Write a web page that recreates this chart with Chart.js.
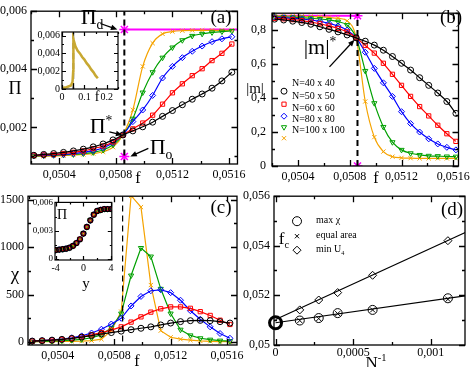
<!DOCTYPE html>
<html>
<head>
<meta charset="utf-8">
<script src="https://cdn.jsdelivr.net/npm/chart.js@4.4.1/dist/chart.umd.min.js"></script>
<style>
  body { margin: 0; background: #fff; }
  #fig { position: relative; width: 474px; height: 367px; overflow: hidden;
         font-family: "Liberation Serif", "Times New Roman", serif; color: #000; }
  canvas { position: absolute; }
  .t { position: absolute; transform: translate(-50%, -50%); white-space: nowrap; line-height: 1; }
  .lg { position: absolute; transform: translateY(-50%); white-space: nowrap; line-height: 1; font-size: 10px; }
  sub, sup { font-size: 62%; line-height: 0; }
</style>
</head>
<body>
<div id="fig">
  <canvas id="chartA" width="250" height="185" style="left:0;top:0"></canvas>
  <canvas id="chartB" width="234" height="185" style="left:240px;top:0"></canvas>
  <canvas id="chartC" width="250" height="182" style="left:0;top:185px"></canvas>
  <canvas id="chartD" width="234" height="182" style="left:240px;top:185px"></canvas>
  <canvas id="insetA" width="92" height="76" style="left:28px;top:24px"></canvas>
  <canvas id="insetC" width="97" height="78" style="left:20px;top:195px"></canvas>

  <!-- panel (a) labels -->
  <div class="t" style="left:221px;top:16px;font-size:19px">(a)</div>
  <div class="t" style="left:15px;top:88px;font-size:18px">Π</div>
  <div class="t" style="left:138px;top:178px;font-size:16px">f</div>
  <div class="t" style="left:92px;top:17px;font-size:22px">Π<sub>d</sub></div>
  <div class="t" style="left:101px;top:126px;font-size:22px">Π<sup>*</sup></div>
  <div class="t" style="left:161px;top:147px;font-size:22px">Π<sub>o</sub></div>
  <div class="t" style="left:97px;top:97px;font-size:14px">f</div>

  <!-- panel (b) labels -->
  <div class="t" style="left:451px;top:16px;font-size:19px">(b)</div>
  <div class="t" style="left:255px;top:88px;font-size:15px">|m|</div>
  <div class="t" style="left:376px;top:178px;font-size:16px">f</div>
  <div class="t" style="left:320px;top:47px;font-size:22px">|m|<sup>*</sup></div>
  <div class="lg" style="left:292px;top:83px">N=40 x 40</div>
  <div class="lg" style="left:292px;top:96px">N=50 x 50</div>
  <div class="lg" style="left:292px;top:108px">N=60 x 60</div>
  <div class="lg" style="left:292px;top:119px">N=80 x 80</div>
  <div class="lg" style="left:292px;top:130px">N=100 x 100</div>

  <!-- panel (c) labels -->
  <div class="t" style="left:221px;top:206px;font-size:19px">(c)</div>
  <div class="t" style="left:15px;top:273px;font-size:19px">χ</div>
  <div class="t" style="left:137px;top:361px;font-size:16px">f</div>
  <div class="t" style="left:62px;top:215px;font-size:14px">Π</div>
  <div class="t" style="left:86px;top:283px;font-size:15px">y</div>

  <!-- panel (d) labels -->
  <div class="t" style="left:452px;top:208px;font-size:19px">(d)</div>
  <div class="t" style="left:284px;top:238px;font-size:17px">f<sub>c</sub></div>
  <div class="t" style="left:376px;top:362px;font-size:17px">N<sup>-1</sup></div>
  <div class="lg" style="left:316px;top:220px">max χ</div>
  <div class="lg" style="left:316px;top:235px">equal area</div>
  <div class="lg" style="left:316px;top:249px">min U<sub>4</sub></div>
</div>

<script>
/* ---------------- data ---------------- */

const fGrid = [0.05022, 0.05029, 0.05036, 0.05043, 0.05050, 0.05057, 0.05064,
               0.05071, 0.05078, 0.05085, 0.05092, 0.05099, 0.05106, 0.05113,
               0.05120, 0.05127, 0.05134, 0.05141, 0.05148, 0.05155, 0.05162];

const sizeNames = ["N=40 x 40", "N=50 x 50", "N=60 x 60", "N=80 x 80", "N=100 x 100"];

// panel (a): Pi vs f
const pi40  = [0.00104, 0.00107, 0.00110, 0.00114, 0.00119, 0.00125, 0.00133, 0.00143, 0.00157, 0.00174, 0.00188,
               0.00202, 0.00218, 0.00238, 0.00258, 0.00278, 0.00297, 0.00315, 0.00335, 0.00360, 0.00390];
const pi50  = [0.00104, 0.00105, 0.00107, 0.00110, 0.00114, 0.00119, 0.00127, 0.00136, 0.00150, 0.00173, 0.00195,
               0.00215, 0.00242, 0.00280, 0.00319, 0.00350, 0.00378, 0.00402, 0.00430, 0.00455, 0.00487];
const pi60  = [0.00103, 0.00104, 0.00105, 0.00107, 0.00110, 0.00114, 0.00120, 0.00130, 0.00147, 0.00174, 0.00220,
               0.00260, 0.00310, 0.00370, 0.00410, 0.00440, 0.00462, 0.00480, 0.00495, 0.00505, 0.00512];
const pi80  = [0.00102, 0.00103, 0.00104, 0.00105, 0.00107, 0.00110, 0.00114, 0.00122, 0.00140, 0.00174, 0.00230,
               0.00320, 0.00390, 0.00440, 0.00475, 0.00500, 0.00515, 0.00522, 0.00527, 0.00530, 0.00532];
const pi100 = [0.00100, 0.00101, 0.00102, 0.00103, 0.00105, 0.00107, 0.00110, 0.00116, 0.00132, 0.00174, 0.00260,
               0.00410, 0.00490, 0.00522, 0.00530, 0.00533, 0.00534, 0.00534, 0.00534, 0.00534, 0.00534];

// panel (b): |m| vs f
const m40  = [0.865, 0.860, 0.853, 0.845, 0.835, 0.820, 0.805, 0.790, 0.772, 0.755, 0.735,
              0.712, 0.682, 0.645, 0.605, 0.565, 0.520, 0.475, 0.430, 0.380, 0.310];
const m50  = [0.870, 0.867, 0.862, 0.856, 0.848, 0.838, 0.825, 0.810, 0.790, 0.755, 0.710,
              0.665, 0.605, 0.540, 0.475, 0.410, 0.350, 0.295, 0.240, 0.190, 0.145];
const m60  = [0.875, 0.873, 0.870, 0.866, 0.860, 0.852, 0.840, 0.825, 0.800, 0.755, 0.670,
              0.575, 0.490, 0.410, 0.320, 0.250, 0.200, 0.160, 0.130, 0.110, 0.095];
const m80  = [0.880, 0.878, 0.876, 0.874, 0.870, 0.866, 0.860, 0.850, 0.830, 0.755, 0.560,
              0.370, 0.230, 0.140, 0.095, 0.075, 0.065, 0.060, 0.058, 0.056, 0.055];
const m100 = [0.885, 0.884, 0.883, 0.882, 0.880, 0.878, 0.875, 0.870, 0.855, 0.755, 0.380,
              0.170, 0.085, 0.055, 0.048, 0.046, 0.045, 0.045, 0.045, 0.045, 0.045];

// panel (c): chi vs f
const chi40  = [10, 15, 20, 28, 38, 52, 68, 85, 100, 115, 130, 145, 160, 180, 200, 215, 225, 228, 225, 215, 200];
const chi50  = [10, 14, 20, 28, 40, 55, 75, 100, 125, 160, 210, 265, 315, 350, 370, 370, 355, 320, 280, 230, 185];
const chi60  = [12, 16, 22, 30, 45, 65, 95, 135, 190, 250, 380, 480, 540, 550, 520, 440, 330, 240, 160, 90, 40];
const chi80  = [5, 7, 10, 14, 20, 28, 45, 75, 150, 300, 700, 990, 900, 560, 300, 130, 70, 40, 25, 15, 10];
const chi100 = [3, 4, 5, 6, 8, 10, 15, 30, 120, 320, 1540, 1420, 600, 120, 50, 30, 20, 12, 8, 5, 4];

// transition markers
const fStar = 0.05086;
const piStar = 0.00174, piD = 0.00537, piO = 0.00100;
const mStar = 0.755, mD = 0.885, mO = 0.0;

// inset (a): Pi over a wide f range
const insetAF  = [0, 0.02, 0.04, 0.047, 0.050, 0.0509, 0.06, 0.07, 0.08, 0.09, 0.10, 0.11, 0.12, 0.13, 0.14, 0.15, 0.16];
const insetAPi = [0.0001, 0.0002, 0.0004, 0.0008, 0.0020, 0.0056, 0.0048, 0.0043, 0.0040, 0.0036, 0.0033,
                  0.0029, 0.0026, 0.0022, 0.0019, 0.0015, 0.0012];

// inset (c): scaling collapse
const collapseY  = [-4, -3.5, -3, -2.5, -2, -1.5, -1, -0.5, 0, 0.5, 1, 1.5, 2, 2.5, 3, 3.5, 4];
const collapsePi = [0.00095, 0.0010, 0.00105, 0.0011, 0.0012, 0.0014, 0.0017, 0.0021, 0.0027, 0.0034,
                    0.0041, 0.0047, 0.0051, 0.0052, 0.0053, 0.0053, 0.0053];

// panel (d): f_c vs 1/N
const invN        = [0.000156, 0.000278, 0.0004, 0.000625, 0.00111];
const fcMaxChi    = [0.05097, 0.05107, 0.05127, 0.05140, 0.05187];
const fcEqualArea = [0.05097, 0.05105, 0.05125, 0.05140, 0.05183];
const fcMinU4     = [0.05140, 0.05180, 0.05210, 0.05280, 0.05420];
const fitX        = [0, 0.00125];
const fitMaxChi   = [0.05088, 0.05199];
const fitMinU4    = [0.05101, 0.05461];
const fcInfinite  = 0.05088;

// tick values
const ticksF   = [0.0504, 0.0508, 0.0512, 0.0516];
const ticksPi  = [0.002, 0.004, 0.006];
const ticksM   = [0, 0.2, 0.4, 0.6, 0.8];
const ticksChi = [0, 500, 1000, 1500];
const ticksInvN = [0, 0.0005, 0.001];
const ticksFc  = [0.05, 0.052, 0.054, 0.056];
const ticksInsetAF = [0, 0.1, 0.2];
const ticksInsetAPi = [0, 0.002, 0.004, 0.006];
const ticksInsetCY = [-4, 0, 4];
const ticksInsetCPi = [0, 0.003, 0.006];

/* ---------------- helpers ---------------- */

const SERIF = '"Liberation Serif", "Times New Roman", serif';
const colors = ["#000000", "#ff0000", "#0000ff", "#00a000", "#f5a300"];
const styles = [
  { pointStyle: "circle", rotation: 0 },
  { pointStyle: "rect", rotation: 0 },
  { pointStyle: "rectRot", rotation: 0 },
  { pointStyle: "triangle", rotation: 180 },
  { pointStyle: "crossRot", rotation: 0 }
];
const MAGENTA = "#ff00ff";

const pts = (xs, ys) => xs.map((x, i) => ({ x, y: ys[i] }));
const comma = v => String(v).replace(".", ",");

function axis(min, max, ticks, fixed, size, pad) {
  return {
    type: "linear",
    min, max,
    afterBuildTicks: s => { s.ticks = ticks.map(v => ({ value: v })); },
    afterFit: s => { if (s.isHorizontal()) s.height = fixed; else s.width = fixed; },
    grid: { display: false, drawTicks: false },
    border: { display: false },
    ticks: {
      autoSkip: false, maxRotation: 0, padding: pad === undefined ? 4 : pad, color: "#000",
      font: { family: SERIF, size },
      callback: v => comma(v)
    }
  };
}

// frame with inward major and minor ticks on all four sides
const frameTicks = {
  id: "frameTicks",
  afterDatasetsDraw(chart, args, o) {
    const { ctx, chartArea: a, scales } = chart;
    ctx.save();
    ctx.strokeStyle = "#000";
    ctx.lineWidth = o.width || 1.3;
    ctx.strokeRect(a.left, a.top, a.right - a.left, a.bottom - a.top);
    const mj = o.major || 6, mn = o.minor || 3;
    const drawSet = (s, vals, len) => {
      vals.forEach(v => {
        if (v < s.min - 1e-12 || v > s.max + 1e-12) return;
        const p = Math.round(s.getPixelForValue(v)) + 0.5;
        ctx.beginPath();
        if (s.isHorizontal()) {
          ctx.moveTo(p, a.bottom); ctx.lineTo(p, a.bottom - len);
          ctx.moveTo(p, a.top); ctx.lineTo(p, a.top + len);
        } else {
          ctx.moveTo(a.left, p); ctx.lineTo(a.left + len, p);
          ctx.moveTo(a.right, p); ctx.lineTo(a.right - len, p);
        }
        ctx.stroke();
      });
    };
    [scales.x, scales.y].forEach(s => {
      const major = s.ticks.map(t => t.value);
      const step = major[1] - major[0];
      const minor = [];
      for (let v = major[0] - step / 2; v <= s.max; v += step) minor.push(v);
      drawSet(s, major, mj);
      drawSet(s, minor, mn);
    });
    ctx.restore();
  }
};

// arrows pointing at data values
const arrows = {
  id: "arrows",
  afterDraw(chart, args, o) {
    const { ctx } = chart;
    (o.list || []).forEach(ar => {
      const px = chart.scales.x.getPixelForValue(ar.x);
      const py = chart.scales.y.getPixelForValue(ar.y);
      const hx = px + ar.head[0], hy = py + ar.head[1];
      const tx = px + ar.tail[0], ty = py + ar.tail[1];
      const ang = Math.atan2(hy - ty, hx - tx);
      ctx.save();
      ctx.strokeStyle = "#000"; ctx.fillStyle = "#000"; ctx.lineWidth = 1.3;
      ctx.beginPath(); ctx.moveTo(tx, ty);
      ctx.lineTo(hx - 5 * Math.cos(ang), hy - 5 * Math.sin(ang)); ctx.stroke();
      ctx.beginPath();
      ctx.moveTo(hx, hy);
      ctx.lineTo(hx - 7 * Math.cos(ang - 0.4), hy - 7 * Math.sin(ang - 0.4));
      ctx.lineTo(hx - 7 * Math.cos(ang + 0.4), hy - 7 * Math.sin(ang + 0.4));
      ctx.closePath(); ctx.fill();
      ctx.restore();
    });
  }
};

// legend symbols (text is HTML)
const legendMarks = {
  id: "legendMarks",
  afterDraw(chart, args, o) {
    const { ctx, chartArea: a } = chart;
    (o.items || []).forEach(it => {
      ctx.save();
      ctx.strokeStyle = it.color; ctx.fillStyle = "rgba(0,0,0,0)"; ctx.lineWidth = 1;
      Chart.helpers.drawPoint(ctx, { pointStyle: it.style, rotation: it.rotation || 0, radius: it.r, borderWidth: 1 },
        a.left + it.dx, a.top + it.dy);
      ctx.restore();
    });
  }
};

// white plot background for insets
const whiteArea = {
  id: "whiteArea",
  beforeDraw(chart) {
    const { ctx, chartArea: a } = chart;
    ctx.save(); ctx.fillStyle = "#fff";
    ctx.fillRect(a.left, a.top, a.right - a.left, a.bottom - a.top);
    ctx.restore();
  }
};

Chart.register(frameTicks, arrows, legendMarks);

function sizeSets(series, smooth, r) {
  return series.map((ys, i) => ({
    label: sizeNames[i],
    data: pts(fGrid, ys),
    showLine: true,
    borderColor: colors[i],
    borderWidth: 1.2,
    cubicInterpolationMode: smooth ? "monotone" : "default",
    tension: 0,
    pointStyle: styles[i].pointStyle,
    rotation: styles[i].rotation,
    pointRadius: r,
    pointBorderWidth: 1,
    pointBorderColor: colors[i],
    pointBackgroundColor: "rgba(0,0,0,0)"
  }));
}

function dashed(x, y0, y1, w) {
  return { data: [{ x, y: y0 }, { x, y: y1 }], showLine: true, borderColor: "#000",
           borderWidth: w, borderDash: [6, 4], pointRadius: 0 };
}

function baseOptions(pad, scales, plugins) {
  return {
    responsive: false,
    animation: false,
    events: [],
    layout: { padding: pad },
    scales,
    plugins: Object.assign({ legend: { display: false }, tooltip: { enabled: false } }, plugins)
  };
}

/* ---------------- panel (a) ---------------- */

new Chart(document.getElementById("chartA"), {
  type: "scatter",
  data: {
    datasets: [
      dashed(fStar, 0, 0.007, 2),
      ...sizeSets([pi40, pi50, pi60, pi80, pi100], true, 3),
      { data: [{ x: fStar, y: piD }, { x: 0.0518, y: piD }], showLine: true, borderColor: MAGENTA,
        borderWidth: 2, pointRadius: 0 },
      { data: [{ x: fStar, y: piD }, { x: fStar, y: piO }], showLine: false, pointStyle: "star",
        pointRadius: 5, pointBorderColor: MAGENTA, pointBorderWidth: 1.5 }
    ]
  },
  options: baseOptions({ left: 0, top: 5, right: 12, bottom: 0 }, {
    x: axis(0.0502, 0.05166, ticksF, 21, 12),
    y: axis(0.00074, 0.006, ticksPi, 31, 12)
  }, {
    arrows: { list: [
      { x: fStar, y: piD, head: [-7, 0], tail: [-24, -6] },
      { x: fStar, y: piStar, head: [-2, 0], tail: [-15, -3] },
      { x: fStar, y: piO, head: [6, 0], tail: [24, -8] }
    ] }
  })
});

/* ---------------- panel (b) ---------------- */

new Chart(document.getElementById("chartB"), {
  type: "scatter",
  data: {
    datasets: [
      dashed(fStar, 0, 1, 2),
      ...sizeSets([m40, m50, m60, m80, m100], true, 3),
      { data: [{ x: 0.0501, y: mD }, { x: fStar, y: mD }], showLine: true, borderColor: MAGENTA,
        borderWidth: 2, pointRadius: 0 },
      { data: [{ x: fStar, y: mD }, { x: fStar, y: mO }], showLine: false, pointStyle: "star",
        pointRadius: 5, pointBorderColor: MAGENTA, pointBorderWidth: 1.5 }
    ]
  },
  options: baseOptions({ left: 0, top: 5, right: 1, bottom: 0 }, {
    x: axis(0.0502, 0.05164, ticksF, 19, 12),
    y: axis(0, 0.9, ticksM, 32, 12, 6)
  }, {
    arrows: { list: [{ x: fStar, y: mStar, head: [-3, 2], tail: [-28, 29] }] },
    legendMarks: { items: sizeNames.map((n, i) => ({
      color: colors[i], style: styles[i].pointStyle, rotation: styles[i].rotation, r: 3,
      dx: 12, dy: [78, 91, 103, 114, 125][i] })) }
  })
});

/* ---------------- panel (c) ---------------- */

new Chart(document.getElementById("chartC"), {
  type: "scatter",
  data: {
    datasets: [
      dashed(fStar, -100, 2000, 1.2),
      ...sizeSets([chi40, chi50, chi60, chi80, chi100], false, 3)
    ]
  },
  options: baseOptions({ left: 0, top: 10, right: 13, bottom: 0 }, {
    x: axis(0.05019, 0.05167, ticksF, 22, 12),
    y: axis(-31, 1535, ticksChi, 28, 12)
  }, {})
});

/* ---------------- panel (d) ---------------- */

new Chart(document.getElementById("chartD"), {
  type: "scatter",
  data: {
    datasets: [
      { data: pts(fitX, fitMaxChi), showLine: true, borderColor: "#000", borderWidth: 1.2, pointRadius: 0 },
      { data: pts(fitX, fitMinU4), showLine: true, borderColor: "#000", borderWidth: 1.2, pointRadius: 0 },
      { data: pts(invN, fcMaxChi), pointStyle: "circle", pointRadius: 4.5, pointBorderColor: "#000",
        pointBorderWidth: 1, pointBackgroundColor: "rgba(0,0,0,0)" },
      { data: pts(invN, fcEqualArea), pointStyle: "crossRot", pointRadius: 3.5, pointBorderColor: "#000",
        pointBorderWidth: 1 },
      { data: pts(invN, fcMinU4), pointStyle: "rectRot", pointRadius: 4, pointBorderColor: "#000",
        pointBorderWidth: 1, pointBackgroundColor: "rgba(0,0,0,0)" },
      { data: [{ x: 0, y: fcInfinite }], pointStyle: "circle", pointRadius: 6, pointBorderColor: "#000",
        pointBorderWidth: 3, pointBackgroundColor: "#fff", clip: false }
    ]
  },
  options: baseOptions({ left: 0, top: 10, right: 1, bottom: 0 }, {
    x: axis(-0.00001, 0.00122, ticksInvN, 22, 12, 1),
    y: axis(0.04998, 0.056, ticksFc, 34, 12)
  }, {
    legendMarks: { items: [
      { color: "#000", style: "circle", r: 4.5, dx: 23, dy: 25 },
      { color: "#000", style: "crossRot", r: 3, dx: 23, dy: 40 },
      { color: "#000", style: "rectRot", r: 4, dx: 23, dy: 54 }
    ] }
  })
});

/* ---------------- insets ---------------- */

new Chart(document.getElementById("insetA"), {
  type: "scatter",
  data: {
    datasets: [
      { data: pts(insetAF, insetAPi), showLine: true, borderColor: "#c8a832", borderWidth: 2.5, pointRadius: 0 },
      dashed(0.0509, 0, 0.007, 1.5)
    ]
  },
  plugins: [whiteArea],
  options: baseOptions({ left: 0, top: 6, right: 2, bottom: 0 }, {
    x: axis(0, 0.25, ticksInsetAF, 11, 10, 2),
    y: axis(0, 0.0064, ticksInsetAPi, 34, 10, 2)
  }, { frameTicks: { major: 4, minor: 2, width: 1.2 } })
});

new Chart(document.getElementById("insetC"), {
  type: "scatter",
  data: {
    datasets: [0, 1, 2, 3, 4].map(i => ({
      data: pts(collapseY, collapsePi), showLine: false, pointStyle: styles[i].pointStyle,
      rotation: styles[i].rotation, pointRadius: 2.5, pointBorderWidth: 1.2,
      pointBorderColor: colors[i], pointBackgroundColor: "rgba(0,0,0,0)"
    }))
  },
  plugins: [whiteArea],
  options: baseOptions({ left: 0, top: 6, right: 2, bottom: 0 }, {
    x: axis(-4.1, 4.1, ticksInsetCY, 13, 10, 2),
    y: axis(-0.0001, 0.006, ticksInsetCPi, 35, 9, 2)
  }, { frameTicks: { major: 4, minor: 2, width: 1.2 } })
});
</script>
</body>
</html>
